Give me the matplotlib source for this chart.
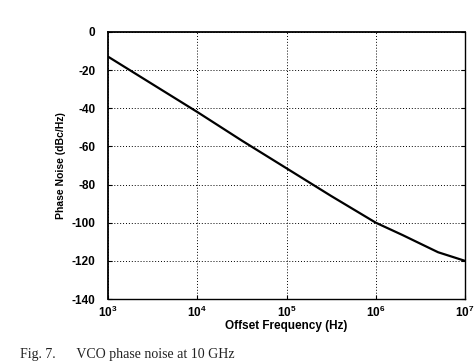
import numpy as np
import matplotlib.pyplot as plt
from matplotlib.ticker import FixedLocator, NullLocator

# values
freq_hz = [1e3, 3.16e3, 1e4, 3.16e4, 1e5, 3.16e5, 1e6, 2e6, 3.16e6, 5e6, 1e7]
phase_noise_dbc = [-13, -27.5, -42, -57, -71.5, -86, -100, -106.5, -111, -115.5, -120]

y_ticks = [0, -20, -40, -60, -80, -100, -120, -140]
x_ticks = [1e3, 1e4, 1e5, 1e6, 1e7]
x_labels = [r'$\mathbf{10^{3}}$', r'$\mathbf{10^{4}}$', r'$\mathbf{10^{5}}$',
            r'$\mathbf{10^{6}}$', r'$\mathbf{10^{7}}$']

plt.rcParams['font.family'] = ['Liberation Sans', 'DejaVu Sans']
plt.rcParams['mathtext.fontset'] = 'custom'
plt.rcParams['mathtext.bf'] = 'Liberation Sans:bold'
plt.rcParams['mathtext.rm'] = 'Liberation Sans'

fig = plt.figure(figsize=(4.74, 3.62), dpi=100)
ax = fig.add_axes([0.228, 0.174, 0.753, 0.738])

ax.plot(freq_hz, phase_noise_dbc, color='black', linewidth=1.6)

ax.set_xscale('log')
ax.set_xlim(1e3, 1e7)
ax.set_ylim(-140, 0)
ax.xaxis.set_major_locator(FixedLocator(x_ticks))
ax.xaxis.set_minor_locator(NullLocator())
ax.set_xticklabels(x_labels, fontsize=8.5)
ax.set_yticks(y_ticks)
ax.set_yticklabels([str(t) for t in y_ticks], fontsize=8.5, fontweight='bold')

ax.grid(True, color='black', linestyle=(0, (1, 2)), linewidth=0.7)
ax.tick_params(direction='in', length=3, width=0.8, right=True, top=False)
ax.tick_params(axis='y', pad=9)
ax.tick_params(axis='x', pad=4)
for s in ax.spines.values():
    s.set_color('black')
    s.set_linewidth(1.0)
ax.spines['left'].set_linewidth(1.3)
ax.spines['top'].set_linewidth(1.3)

ax.set_xlabel('Offset Frequency (Hz)', fontsize=8.5, fontweight='bold', labelpad=0)
ax.set_ylabel('Phase Noise (dBc/Hz)', fontsize=7.5, fontweight='bold', labelpad=4)

fig.text(0.042, 0.004, 'Fig. 7.      VCO phase noise at 10 GHz',
         fontsize=10, family=['Liberation Serif', 'DejaVu Serif'],
         va='bottom', ha='left', color='#222222')

plt.savefig('out.png', dpi=100)
